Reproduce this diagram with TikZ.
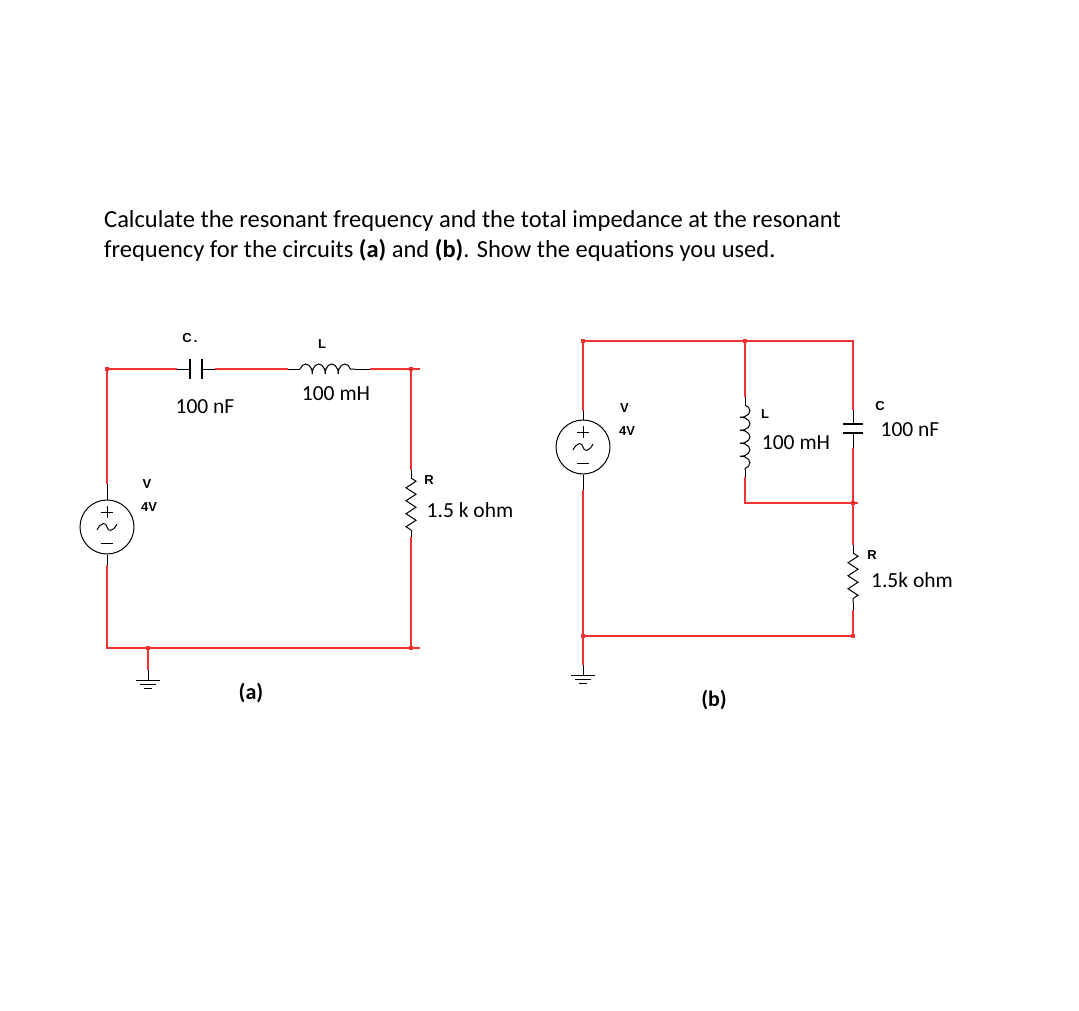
\documentclass[tikz,border=0pt]{standalone}
\usepackage{fontspec}
\setmainfont{Carlito}
\newfontfamily\lab{Liberation Sans}
\usetikzlibrary{decorations.pathmorphing}
\definecolor{wire}{RGB}{240,50,50}
\begin{document}
\begin{tikzpicture}[x=1pt,y=-1pt,
  w/.style={wire,line width=1.3pt},
  comp/.style={black,line width=1pt},
  dot/.style={fill=wire,minimum size=4pt,inner sep=0pt,draw=none},
  sm/.style={font=\lab\bfseries\fontsize{13}{13}\selectfont,inner sep=0pt},
  val/.style={font=\fontsize{21.5}{21.5}\selectfont,inner sep=0pt},
  res/.style={comp,decorate,decoration={zigzag,segment length=13pt,amplitude=5pt}},
  ind/.style={comp,decorate,decoration={coil,aspect=0.5,segment length=13pt,amplitude=5pt}}]
\useasboundingbox (0,0) rectangle (1079,1011);
\node[anchor=west,align=left,font=\fontsize{24.5}{30}\selectfont,inner sep=0pt] (title) at (104,236)
 {Calculate the resonant frequency and the total impedance at the resonant\\frequency for the circuits \textbf{(a)} and \textbf{(b)}. Show the equations you used.};
% ---------- circuit (a)
\coordinate (a1) at (107,369); \coordinate (a2) at (411,369);
\coordinate (a3) at (411,648); \coordinate (a4) at (107,648);
\coordinate (ag) at (148,648);
\draw[w] (a1) -- (177,369) (215,369) -- (288,369) (370,369) -- (420,369);
\draw[w] (a2) -- (411,470) (411,537) -- (a3);
\draw[w] (a1) -- (107,484) (107,565) -- (a4) -- (420,648);
\draw[w] (ag) -- (148,670);
\draw[comp] (177,369) -- (190,369) (202,369) -- (215,369);
\draw[comp,line width=1.6pt] (190,359) -- (190,379) (202,359) -- (202,379);
\draw[comp] (288,369) -- (300,369) (355,369) -- (370,369);
\draw[ind] (300,369) -- (355,369);
\draw[comp] (411,470) -- (411,478);
\draw[res] (411,478) -- (411,530);
\draw[comp] (411,530) -- (411,537);
\node[draw,circle,comp,minimum size=54pt,inner sep=0pt] (va) at (107,527) {};
\draw[comp] (107,484) -- (va.north) (va.south) -- (107,565);
\draw[comp] (101,512) -- (113,512) (107,506) -- (107,518) (101,543) -- (113,543);
\draw[comp] (97,530) .. controls (101,522) and (106,522) .. (107,527) .. controls (108,532) and (113,532) .. (117,524);
\draw[comp] (148,670) -- (148,680) (136,680) -- (160,680) (140,684) -- (156,684) (144,688) -- (152,688);
\foreach \p in {a1,a2,a3,ag} \node[dot] at (\p) {};
\node[sm] (lc) at (190,338) {C\,.};
\node[sm] (ll) at (322,344) {L};
\node[val] (vc) at (205,407) {100 nF};
\node[val] (vl) at (336,394) {100 mH};
\node[sm] (lv) at (147,484) {V};
\node[sm] (l4) at (149,507) {4V};
\node[sm] (lr) at (429,480) {R};
\node[val] (vr) at (470,510) {1.5 k ohm};
\node[val,font=\bfseries\fontsize{22}{22}\selectfont] (la) at (251,693) {(a)};
% ---------- circuit (b)
\coordinate (b1) at (583,341); \coordinate (b2) at (745,341); \coordinate (b3) at (853,341);
\coordinate (b4) at (853,503); \coordinate (b5) at (745,503);
\coordinate (b6) at (853,636); \coordinate (b7) at (583,636);
\draw[w] (b1) -- (b3) -- (853,410) (853,448) -- (b4) -- (853,545) (853,610) -- (b6) -- (b7);
\draw[w] (b2) -- (745,397) (745,477) -- (b5) -- (b4) -- (858,503);
\draw[w] (b1) -- (583,411) (583,490) -- (b7) -- (583,665);
\draw[comp] (745,397) -- (745,405) (745,470) -- (745,477);
\draw[ind] (745,405) -- (745,470);
\draw[comp] (853,410) -- (853,424) (853,433) -- (853,448);
\draw[comp,line width=1.6pt] (843,424) -- (863,424) (843,433) -- (863,433);
\draw[comp] (853,545) -- (853,553) (853,603) -- (853,610);
\draw[res] (853,553) -- (853,603);
\node[draw,circle,comp,minimum size=54pt,inner sep=0pt] (vb) at (583,447) {};
\draw[comp] (583,411) -- (vb.north) (vb.south) -- (583,490);
\draw[comp] (577,432) -- (589,432) (583,426) -- (583,438) (577,463) -- (589,463);
\draw[comp] (573,450) .. controls (577,442) and (582,442) .. (583,447) .. controls (584,452) and (589,452) .. (593,444);
\draw[comp] (583,665) -- (583,675) (571,675) -- (595,675) (575,679) -- (591,679) (579,683) -- (587,683);
\foreach \p in {b1,b2,b4,b6,b7} \node[dot] at (\p) {};
\node[sm] (mv) at (626,408) {V$^{\cdot}$};
\node[sm] (m4) at (627,431) {4V};
\node[sm] (ml) at (765,414) {L};
\node[val] (wl) at (796,443) {100 mH};
\node[sm] (mc) at (880,406) {C};
\node[val] (wc) at (910,430) {100 nF};
\node[sm] (mr) at (872,555) {R};
\node[val] (wr) at (912,580) {1.5k ohm};
\node[val,font=\bfseries\fontsize{22}{22}\selectfont] (lb) at (714,700) {(b)};
\end{tikzpicture}
\end{document}
